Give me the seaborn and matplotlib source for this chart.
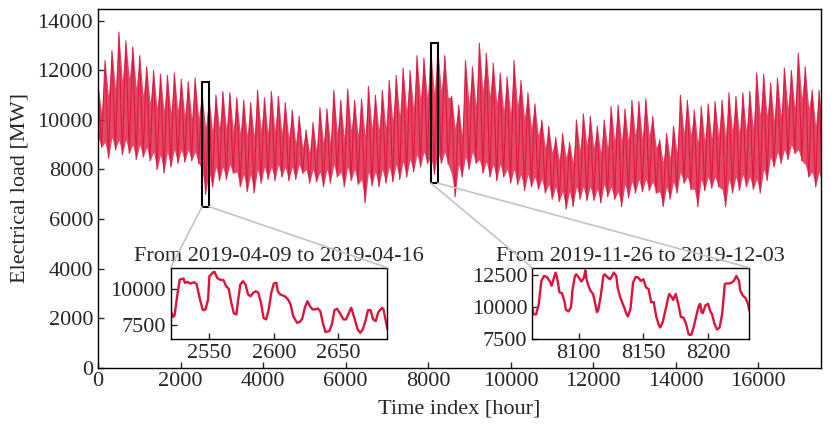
import numpy as np
import pandas as pd
import matplotlib
matplotlib.use("Agg")
import matplotlib.pyplot as plt
from matplotlib.patches import Rectangle, ConnectionPatch
import seaborn as sns

# Weekly shape of the hourly load (MW):
# weekday high / weekday low and weekend high / weekend low
week_peak_mw = [
    11400, 12400, 12800, 13550, 13200, 12950, 12600, 12150, 12000, 11850,
    11800, 11900, 11650, 11550, 11700, 11100, 10950, 11000, 11150, 11100,
    10900, 10800, 10700, 11200, 10900, 11150, 10950, 10700, 10400, 10150,
    9600, 9900, 10500, 10450, 11200, 10800, 11250, 10800, 10850, 11350,
    11000, 11200, 11600, 11800, 12100, 12000, 12600, 12500, 12800, 12950,
    12600, 10950, 10600, 12400, 12150, 13100, 12700, 12300, 11900, 11750,
    12400, 11600, 11100, 10650, 10000, 9750, 9300, 9450, 9100, 10000,
    10250, 10150, 9750, 10000, 10550, 10600, 10450, 10800, 10750, 10850,
    10150, 9200, 9450, 9750, 11000, 10800, 10400, 10550, 10650, 10750,
    10800, 11100, 10950, 11100, 11150, 11900, 11850, 11500, 11700, 12100,
    12000, 12700, 12150, 11200, 11200,
]
weekday_low_mw = [
    9300, 9100, 9300, 9200, 9200, 9000, 9000, 8900, 8700, 8600,
    8700, 8800, 8800, 8800, 8700, 8000, 7900, 8100, 8100, 8200,
    7900, 7800, 7800, 8000, 8100, 8100, 8200, 8100, 8100, 8200,
    8000, 8000, 7900, 8000, 8200, 7900, 8100, 8000, 7600, 7900,
    7900, 8000, 8100, 8200, 8300, 8400, 8600, 8700, 8500, 8700,
    8700, 7800, 8200, 8500, 8700, 8400, 8300, 8200, 8200, 8000,
    8000, 7800, 7800, 7700, 7600, 7400, 7300, 7100, 7100, 7300,
    7300, 7300, 7200, 7400, 7300, 7100, 7400, 7500, 7600, 7600,
    7500, 7100, 7300, 7500, 7900, 7700, 7200, 7600, 7700, 7700,
    7200, 7600, 7700, 7800, 7700, 7600, 8000, 8500, 8700, 8800,
    9000, 8800, 8200, 7900, 7900,
]
weekend_high_mw = [
    10300, 11000, 11300, 11600, 11700, 11300, 11000, 10700, 10500, 10400,
    10300, 10400, 10200, 10100, 10100, 9700, 9600, 9700, 9700, 9600,
    9500, 9400, 9400, 9600, 9500, 9600, 9500, 9300, 9100, 8900,
    8700, 8800, 9100, 9100, 9500, 9300, 9600, 9400, 9400, 9700,
    9600, 9700, 10000, 10200, 10400, 10500, 10900, 10900, 11100, 11200,
    10900, 9700, 9400, 10700, 10600, 11200, 11000, 10700, 10400, 10300,
    10600, 10100, 9700, 9400, 8900, 8700, 8400, 8500, 8300, 8800,
    9000, 8900, 8700, 8900, 9200, 9200, 9200, 9400, 9300, 9400,
    8900, 8300, 8500, 8700, 9500, 9400, 9100, 9200, 9300, 9400,
    9400, 9600, 9500, 9600, 9700, 10200, 10200, 10000, 10200, 10500,
    10500, 10900, 10500, 9800, 9800,
]
week_trough_mw = [
    8900, 8450, 8800, 8600, 8650, 8400, 8500, 8350, 8000, 7850,
    8100, 8250, 8300, 8350, 8250, 7000, 7300, 7550, 7600, 7850,
    7300, 7100, 7050, 7450, 7600, 7550, 7700, 7550, 7600, 7850,
    7450, 7500, 7300, 7450, 7700, 7300, 7550, 7400, 6650, 7350,
    7300, 7450, 7500, 7600, 7700, 7900, 8100, 8250, 7800, 8250,
    8200, 6900, 7700, 8000, 8250, 7850, 7700, 7550, 7700, 7450,
    7400, 7150, 7300, 7200, 7050, 6800, 6700, 6400, 6500, 6800,
    6750, 6750, 6650, 6900, 6800, 6500, 6850, 7050, 7100, 7150,
    7050, 6500, 6800, 7050, 7450, 7200, 6500, 7150, 7250, 7300,
    6500, 7050, 7150, 7300, 7200, 7050, 7550, 8100, 8250, 8400,
    8650, 8350, 7700, 7300, 7350,
]

# Zoomed week 1: 2019-04-09 .. 2019-04-16
april_hour = [2520, 2522, 2523, 2525, 2527, 2530, 2531, 2533, 2535, 2538,
              2540, 2541, 2543, 2545, 2547, 2549, 2550, 2553, 2554, 2556,
              2558, 2561, 2563, 2565, 2567, 2569, 2571, 2572, 2574, 2576,
              2578, 2580, 2582, 2584, 2586, 2588, 2590, 2592, 2594, 2596,
              2598, 2600, 2602, 2603, 2605, 2607, 2609, 2611, 2613, 2615,
              2618, 2620, 2622, 2624, 2626, 2628, 2630, 2632, 2634, 2636,
              2638, 2640, 2643, 2645, 2647, 2649, 2651, 2654, 2656, 2659,
              2660, 2662, 2665, 2667, 2669, 2671, 2673, 2675, 2677, 2679,
              2681, 2684, 2685, 2688]
april_mw = [8480, 8080, 8180, 9530, 10700, 10770, 10470, 10540, 10420, 10510,
            10400, 10000, 9180, 8550, 8600, 9300, 10930, 11215, 11240, 10820,
            10700, 10650, 10230, 10050, 9070, 8320, 8250, 9070, 10350, 10580,
            10350, 9650, 9530, 9770, 9880, 9770, 9070, 8010, 7900, 8600,
            9770, 10420, 10470, 9880, 9650, 9580, 9490, 9300, 8950, 8130,
            7660, 7710, 7940, 8715, 9180, 8830, 8600, 8600, 8670, 8480,
            7660, 7010, 7080, 7550, 8550, 8645, 8365, 7900, 7900, 8530,
            8715, 8130, 7200, 6960, 7200, 7780, 8550, 8550, 7900, 7780,
            8410, 8715, 8600, 7240]

# Zoomed week 2: 2019-11-26 .. 2019-12-03
nov_hour = [8064, 8065, 8067, 8069, 8071, 8073, 8075, 8076, 8078, 8079,
            8080, 8082, 8083, 8084, 8085, 8087, 8089, 8090, 8092, 8094,
            8095, 8097, 8098, 8100, 8102, 8104, 8105, 8106, 8107, 8109,
            8111, 8113, 8114, 8115, 8117, 8119, 8120, 8122, 8124, 8125,
            8127, 8129, 8130, 8132, 8135, 8137, 8138, 8140, 8142, 8144,
            8146, 8148, 8150, 8152, 8154, 8156, 8158, 8160, 8162, 8163,
            8165, 8167, 8169, 8170, 8172, 8173, 8175, 8177, 8179, 8181,
            8183, 8185, 8187, 8189, 8191, 8193, 8194, 8195, 8196, 8198,
            8200, 8202, 8203, 8205, 8207, 8209, 8211, 8213, 8214, 8217,
            8218, 8220, 8222, 8224, 8225, 8227, 8229, 8231, 8232]
nov_mw = [9860, 9420, 9420, 10250, 12060, 12450, 12380, 12270, 11930, 11680,
          12060, 12710, 12380, 11800, 11160, 11080, 10380, 9780, 9650, 9990,
          11290, 12450, 12580, 12320, 12010, 12320, 12890, 12190, 11800, 11290,
          11030, 10120, 9600, 9730, 10900, 12450, 12580, 12380, 12190, 12320,
          12710, 12450, 11550, 10770, 9990, 9420, 9260, 9860, 11930, 12380,
          12320, 12060, 12190, 11550, 11420, 10380, 10380, 9210, 8560, 8380,
          8820, 9730, 10640, 11030, 10770, 10560, 11030, 10250, 9210, 9160,
          8690, 7840, 7790, 8440, 9340, 10120, 10250, 9600, 9520, 10120,
          10250, 9600, 9470, 8690, 8230, 8380, 9470, 11800, 11860, 11860,
          11910, 12060, 12450, 12060, 11290, 10900, 10720, 10250, 9730]

windows = [
    ("From 2019-04-09 to 2019-04-16", april_hour, april_mw, (6500, 11530)),
    ("From 2019-11-26 to 2019-12-03", nov_hour, nov_mw, (7450, 13100)),
]

LINE = "#DC143C"


def style_axis(ax):
    ax.tick_params(direction="in", length=4, width=1, labelsize=16,
                   top=False, right=False)
    for s in ax.spines.values():
        s.set_linewidth(1.0)
        s.set_color("black")


def interleave(a, b):
    return np.column_stack([a, b]).ravel()


sns.set_theme(style="ticks")
plt.rcParams["font.family"] = ["Liberation Serif", "DejaVu Serif"]

fig = plt.figure(figsize=(8.31, 4.30), dpi=100)
ax = fig.add_axes([0.118, 0.1453, 0.870, 0.8330])

# main series, half-week steps: weekday part then weekend part
upper = interleave(week_peak_mw, weekend_high_mw)
lower = interleave(weekday_low_mw, week_trough_mw)
hours = np.arange(len(upper)) * 84
ax.fill_between(hours, lower, upper, color=LINE, alpha=0.78, lw=0)
main_df = pd.DataFrame({"hour": hours,
                        "load": interleave(week_peak_mw, week_trough_mw)})
sns.lineplot(data=main_df, x="hour", y="load", ax=ax, color=LINE,
             lw=0.8, alpha=0.9)

ax.set_xlim(0, 17520)
ax.set_ylim(0, 14470)
ax.set_xticks(np.arange(0, 16001, 2000))
ax.set_yticks(np.arange(0, 14001, 2000))
ax.set_xlabel("Time index [hour]", fontsize=16, labelpad=6)
ax.set_ylabel("Electrical load [MW]", fontsize=16, labelpad=6)
style_axis(ax)

inset_boxes = [[0.2054, 0.2109, 0.2607, 0.1665],
               [0.6406, 0.2109, 0.2611, 0.1665]]

for (title, hrs, mw, ylim), box in zip(windows, inset_boxes):
    ins = fig.add_axes(box)
    ins.set_facecolor("white")
    sns.lineplot(x=hrs, y=mw, ax=ins, color=LINE, lw=1.7)
    x0, x1 = hrs[0], hrs[-1]
    ins.set_xlim(x0, x1)
    ins.set_ylim(*ylim)
    ins.set_xticks([t for t in range(2500, 8300, 50) if x0 < t < x1])
    ins.set_yticks([t for t in (7500, 10000, 12500) if ylim[0] <= t <= ylim[1]])
    ins.set_title(title, fontsize=16, pad=5)
    ins.set_xlabel("")
    ins.set_ylabel("")
    style_axis(ins)

    ax.add_patch(Rectangle((x0, ylim[0]), x1 - x0, ylim[1] - ylim[0],
                           fill=False, ec="black", lw=1.5, zorder=5))
    for corner_x, data_x in ((0, x0), (1, x1)):
        con = ConnectionPatch(xyA=(corner_x, 1), coordsA=ins.transAxes,
                              xyB=(data_x, ylim[0]), coordsB=ax.transData,
                              color="#c4c4c4", lw=1.2, zorder=1)
        fig.add_artist(con)

fig.savefig("out.png", dpi=100)
